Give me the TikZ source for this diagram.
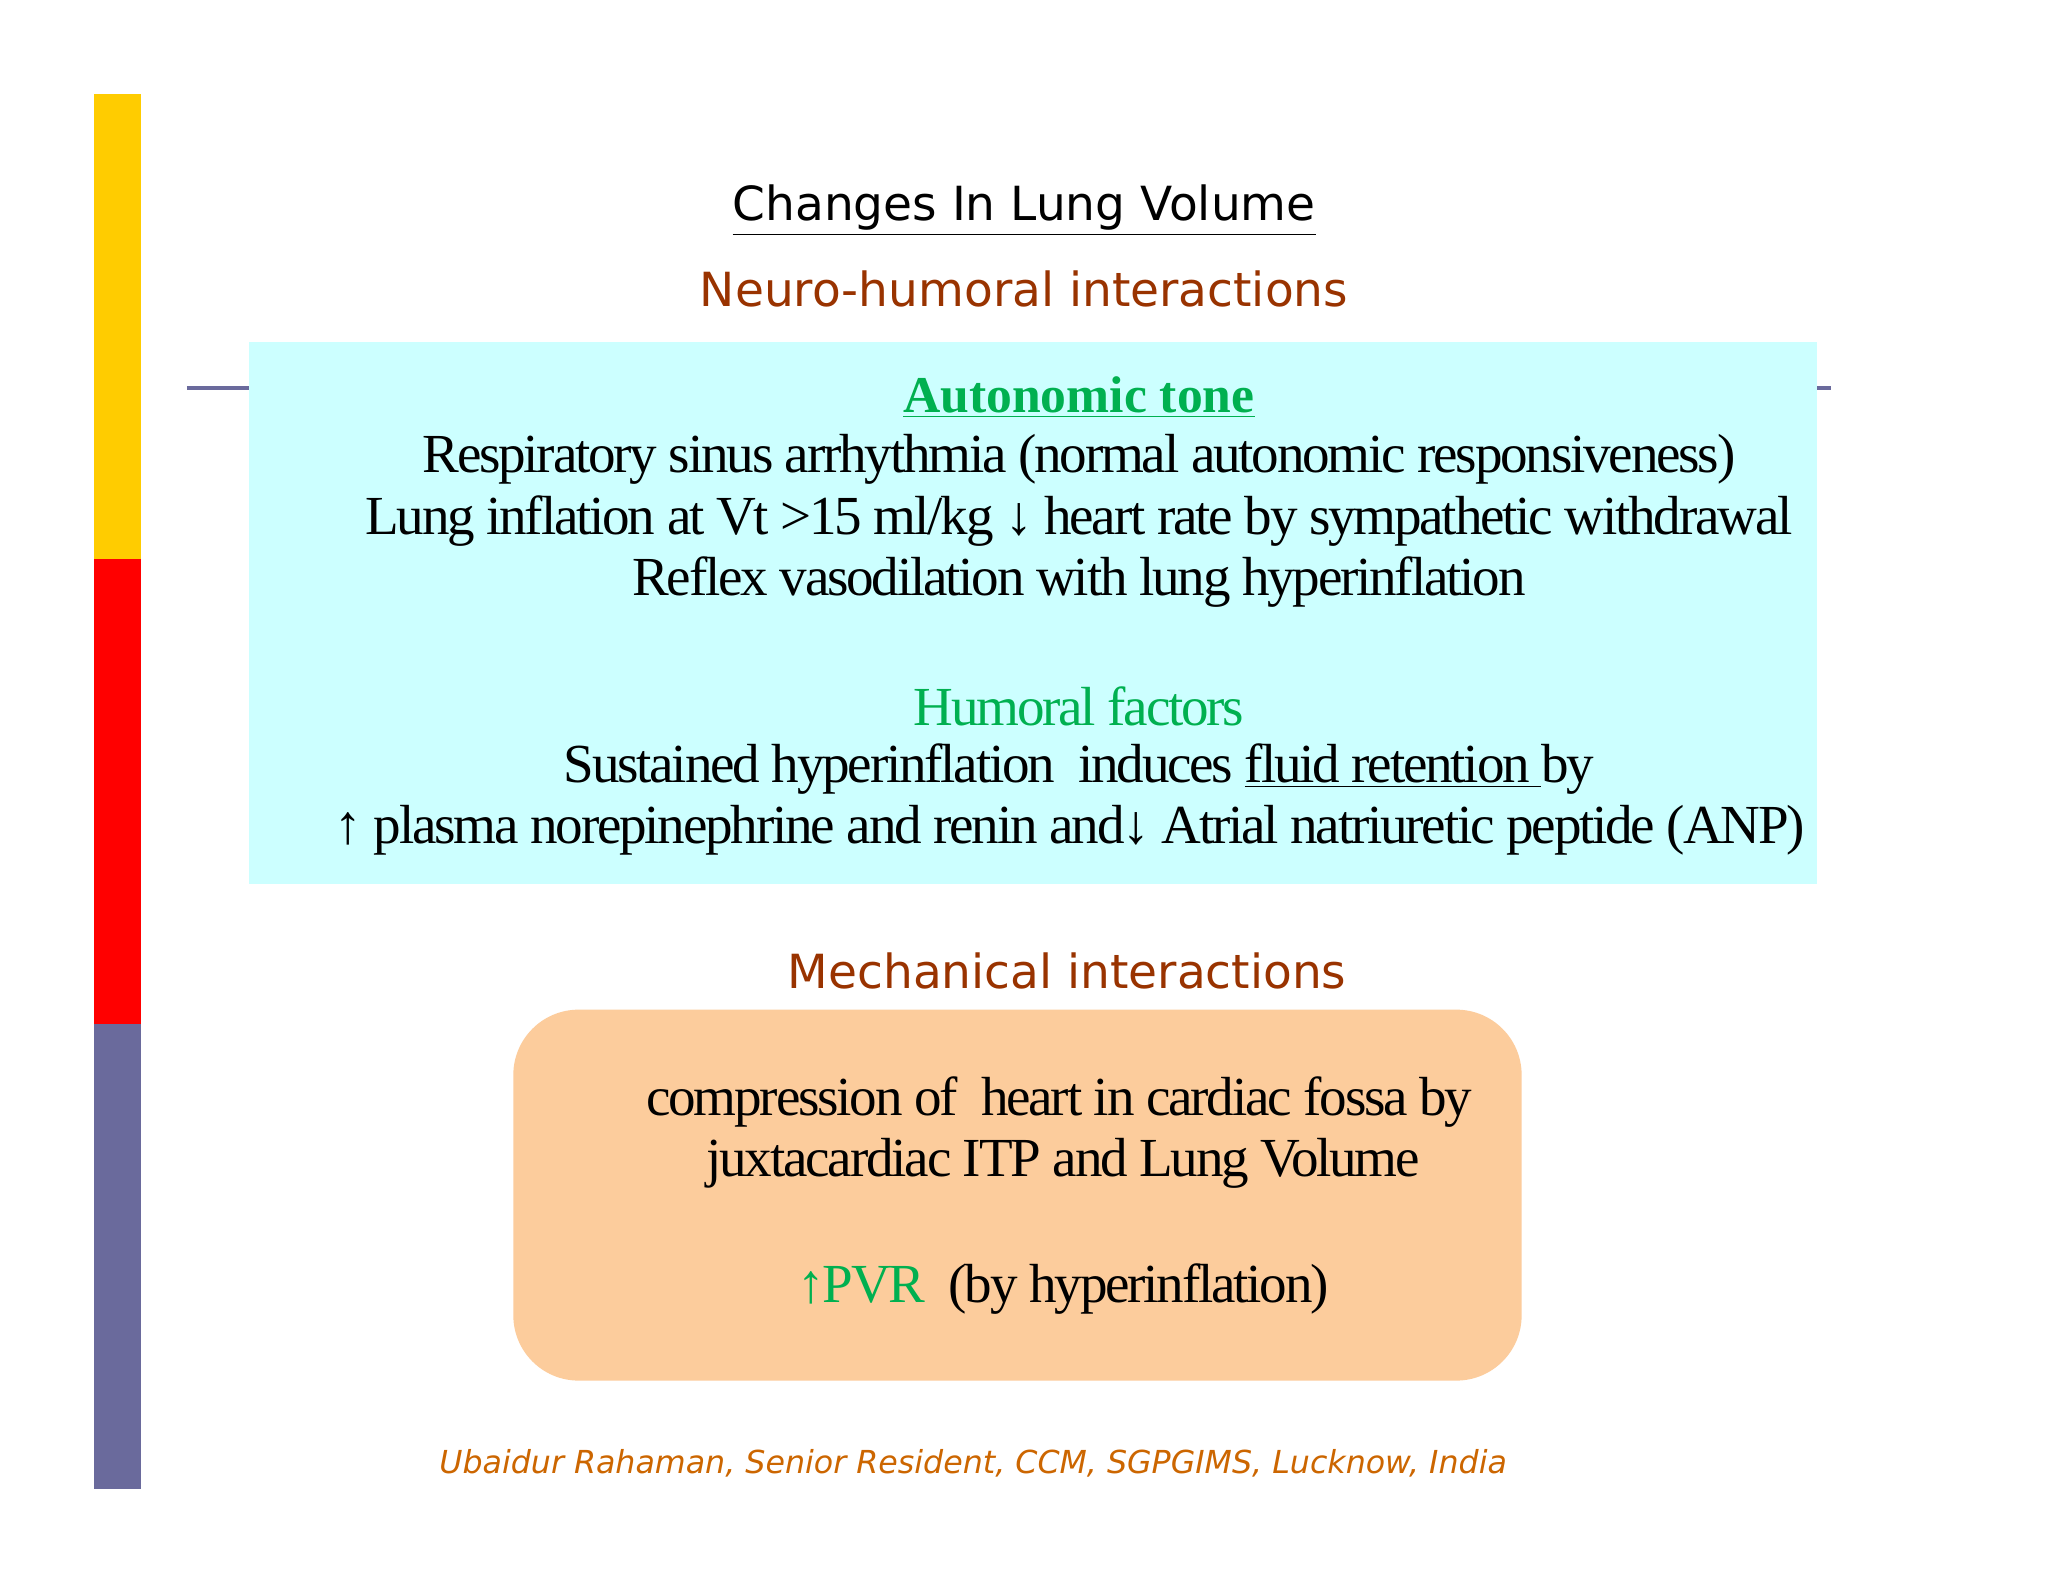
\documentclass[tikz,border=0pt]{standalone}
\usepackage{fontspec}
\setmainfont{Liberation Serif}
\newfontfamily\vsans{DejaVu Sans}
\usepackage{xcolor}
\definecolor{barYellow}{RGB}{255,204,0}
\definecolor{barRed}{RGB}{255,0,0}
\definecolor{barPurple}{RGB}{106,106,156}
\definecolor{cyanbox}{RGB}{204,255,255}
\definecolor{orbox}{RGB}{252,204,156}
\definecolor{brownt}{RGB}{153,51,0}
\definecolor{greent}{RGB}{0,176,80}
\definecolor{foot}{RGB}{204,102,0}
\begin{document}
\begin{tikzpicture}[x=0.02cm,y=-0.02cm,
  body/.style={font=\fontsize{24}{29}\selectfont\addfontfeatures{LetterSpace=-4}, inner sep=0, anchor=center},
  head/.style={font=\vsans\fontsize{20.5}{24}\selectfont, inner sep=0}]
\useasboundingbox (0,0) rectangle (1568,1211);
\fill[white] (0,0) rectangle (1568,1211);
\fill[barYellow] (72,72) rectangle (108,428);
\fill[barRed] (72,428) rectangle (108,784);
\fill[barPurple] (72,784) rectangle (108,1140);
\draw[barPurple, line width=1.5pt] (143,297) -- (1402,297);
\fill[cyanbox] (191,262) rectangle (1391,677);
\fill[orbox, rounded corners=1cm] (393,773) rectangle (1165,1057);
\node[head] (t1) at (784,161) {\underline{Changes In Lung Volume}};
\node[head, text=brownt] (t2) at (784,221) {Neuro-humoral interactions};
\node[body, text=greent, font=\bfseries\fontsize{22.5}{27}\selectfont] (a0) at (826,304) {\underline{Autonomic tone}};
\node[body] (a1) at (826,352) {Respiratory sinus arrhythmia (normal autonomic responsiveness)};
\node[body] (a2) at (826,399) {Lung inflation at Vt >15 ml/kg ↓ heart rate by sympathetic withdrawal};
\node[body] (a3) at (826,446) {Reflex vasodilation with lung hyperinflation};
\node[body, text=greent] (h0) at (826,541) {Humoral factors};
\node[body] (h1) at (826,589) {Sustained hyperinflation\ \ induces \underline{fluid retention }by};
\node[body] (h2) at (819,636) {↑ plasma norepinephrine and renin and↓ Atrial natriuretic peptide (ANP)};
\node[head, text=brownt] (m0) at (817,743) {Mechanical interactions};
\node[body] (m1) at (811,844) {compression of\ \ heart in cardiac fossa by};
\node[body] (m2) at (814,891) {juxtacardiac ITP and Lung Volume};
\node[body] (m3) at (814,987) {\textcolor{greent}{↑PVR}\ \ (by hyperinflation)};
\node[inner sep=0, text=foot, font=\vsans\itshape\fontsize{13.8}{16}\selectfont] (f) at (745,1120) {Ubaidur Rahaman, Senior Resident, CCM, SGPGIMS, Lucknow, India};
\end{tikzpicture}
\end{document}
